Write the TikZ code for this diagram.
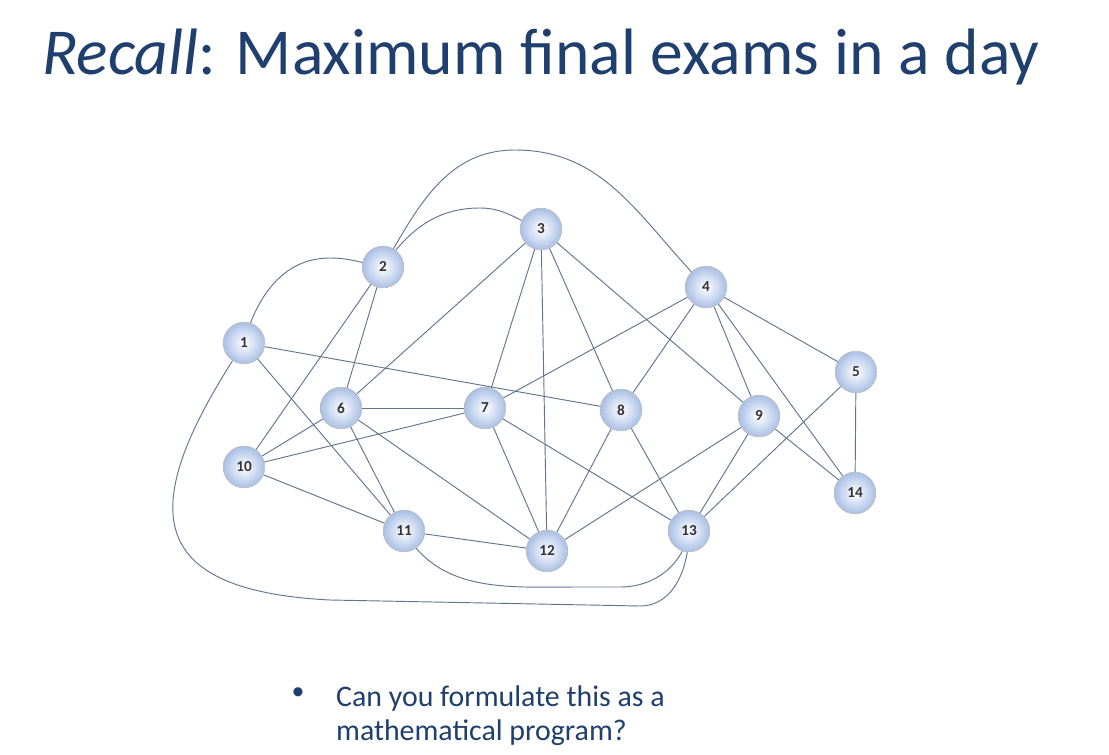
\documentclass[tikz,border=0pt]{standalone}
\usepackage{fontspec}
\setmainfont{Carlito}
\definecolor{ttl}{HTML}{1F3F6E}
\definecolor{edg}{HTML}{5F7590}
\definecolor{nfill}{HTML}{A9BFE6}
\begin{document}
\begin{tikzpicture}[x=0.03cm,y=-0.03cm,
  vtx/.style={circle,draw=gray!50,line width=0.6pt,inner sep=0pt,minimum size=1.25cm,
    shading=radial,inner color=white,outer color=nfill,font=\fontsize{13}{14}\selectfont\bfseries,text=black!80},
  edge/.style={draw=edg,line width=0.8pt},
  txt/.style={anchor=base west,font=\fontsize{25.5}{30}\selectfont,text=ttl}]
\useasboundingbox (0,0) rectangle (1109,755);
\node[anchor=base west,font=\fontsize{56}{60}\selectfont,text=ttl] (title) at (38,74) {\textit{Recall}: Maximum final exams in a day};
\foreach \n/\x/\y in {1/244/343,2/383/267,3/541/229,4/706/287,5/856/372,6/341/408,7/485/408,8/621/410,9/759/416,10/244/467,11/404/531,12/547/551,13/689/531,14/855/493}
  \coordinate (p\n) at (\x,\y);
\begin{scope}[edge]
\foreach \a/\b in {1/8,1/11,2/10,2/6,3/6,3/7,3/12,3/8,3/9,4/7,4/8,4/9,4/14,4/5,5/13,5/14,6/7,6/10,6/11,6/12,7/10,7/12,7/13,8/12,8/13,9/12,9/13,9/14,10/11,11/12}
  \draw (p\a) -- (p\b);
\draw (p1) to[out=75,in=180] (330,258) to[out=0,in=170] (p2);
\draw (p2) to[out=60,in=180] (515,150) to[out=0,in=135] (p4);
\draw (p2) to[out=55,in=180] (480,208) to[out=0,in=160] (p3);
\draw (p1) .. controls (140,500) and (135,590) .. (330,600) -- (640,606) to[out=0,in=270] (p13);
\draw (p11) to[out=-60,in=180] (580,587) -- (620,587) to[out=0,in=260] (p13);
\end{scope}
\foreach \n/\x/\y in {1/244/343,2/383/267,3/541/229,4/706/287,5/856/372,6/341/408,7/485/408,8/621/410,9/759/416,10/244/467,11/404/531,12/547/551,13/689/531,14/855/493}
  \node[vtx] (v\n) at (\x,\y) {\n};
\node[txt] (q1) at (332,706) {Can you formulate this as a};
\node[txt] (q2) at (332,740) {mathematical program?};
\node[font=\fontsize{22}{26}\selectfont,text=ttl] (b) at (298,694) {•};
\end{tikzpicture}
\end{document}
